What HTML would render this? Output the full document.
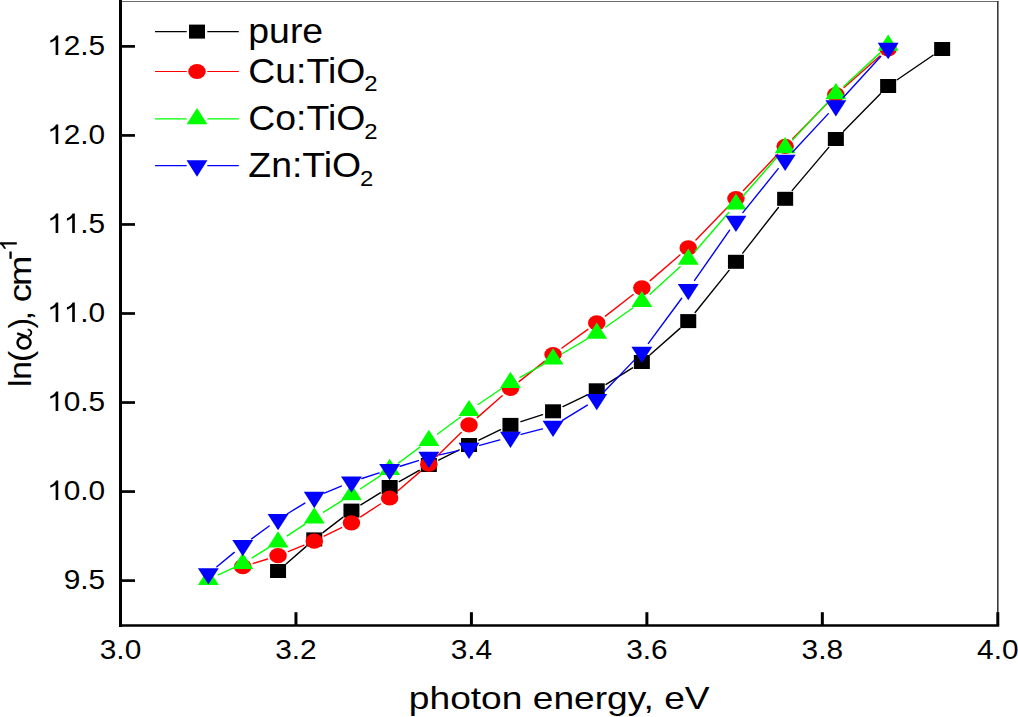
<!DOCTYPE html>
<html><head><meta charset="utf-8"><title>ln(alpha) vs photon energy</title>
<style>html,body{margin:0;padding:0;background:#fff;width:1018px;height:717px;overflow:hidden}svg{display:block}</style>
</head><body><svg width="1018" height="717" viewBox="0 0 1018 717"><rect width="100%" height="100%" fill="#fff"/><path d="M286.34 563.77L305.96 546.63M322.95 532.67L342.75 517.33M360.81 504.82L380.29 492.78M399.24 481.62L419.26 470.38M438.7 460.1L459.2 449.9M478.95 440.2L500.55 429.7M520.93 421.55L542.57 414.65M562.96 406.54L586.84 395.06M606.07 384.45L632.53 367.85M650.1 354.73L680 328.37M695.14 312.53L729.06 270.37M742.72 253.13L778.38 207.47M792.26 190.41L828.74 147.39M843.58 131.17L880.42 93.83M897.22 79.78L933.08 55.22" stroke="#000000" stroke-width="1.4" stroke-linecap="round" fill="none"/><g fill="#000000"><rect x="270.05" y="564" width="16" height="14"/><rect x="306.25" y="532.4" width="16" height="14"/><rect x="343.45" y="503.6" width="16" height="14"/><rect x="381.65" y="480" width="16" height="14"/><rect x="420.85" y="458" width="16" height="14"/><rect x="461.05" y="438" width="16" height="14"/><rect x="502.45" y="417.9" width="16" height="14"/><rect x="545.05" y="404.3" width="16" height="14"/><rect x="588.75" y="383.3" width="16" height="14"/><rect x="633.85" y="355" width="16" height="14"/><rect x="680.25" y="314.1" width="16" height="14"/><rect x="727.95" y="254.8" width="16" height="14"/><rect x="777.15" y="191.8" width="16" height="14"/><rect x="827.85" y="132" width="16" height="14"/><rect x="880.15" y="79" width="16" height="14"/><rect x="934.15" y="42" width="16" height="14"/></g><path d="M253.25 563.43L267.55 558.97M288.25 551.59L304.05 545.21M324.12 536.24L341.58 527.66M360.68 516.81L380.42 503.99M397.98 490.82L420.52 471.38M436.72 456.51L461.18 432.59M477.31 417.64L502.19 395.76M519.05 381.64L544.45 361.36M561.96 348.05L587.84 329.35M605.43 316.14L633.17 294.56M650.19 280.63L679.91 255.07M695.9 239.99L728.3 206.51M743.49 190.59L777.61 154.31M792.86 138.45L828.14 102.55M844.12 87.44L879.88 56.06" stroke="#ff0000" stroke-width="1.4" stroke-linecap="round" fill="none"/><g fill="#ff0000"><ellipse cx="242.75" cy="566.7" rx="8.75" ry="7.6"/><ellipse cx="278.05" cy="555.7" rx="8.75" ry="7.6"/><ellipse cx="314.25" cy="541.1" rx="8.75" ry="7.6"/><ellipse cx="351.45" cy="522.8" rx="8.75" ry="7.6"/><ellipse cx="389.65" cy="498" rx="8.75" ry="7.6"/><ellipse cx="428.85" cy="464.2" rx="8.75" ry="7.6"/><ellipse cx="469.05" cy="424.9" rx="8.75" ry="7.6"/><ellipse cx="510.45" cy="388.5" rx="8.75" ry="7.6"/><ellipse cx="553.05" cy="354.5" rx="8.75" ry="7.6"/><ellipse cx="596.75" cy="322.9" rx="8.75" ry="7.6"/><ellipse cx="641.85" cy="287.8" rx="8.75" ry="7.6"/><ellipse cx="688.25" cy="247.9" rx="8.75" ry="7.6"/><ellipse cx="735.95" cy="198.6" rx="8.75" ry="7.6"/><ellipse cx="785.15" cy="146.3" rx="8.75" ry="7.6"/><ellipse cx="835.85" cy="94.7" rx="8.75" ry="7.6"/><ellipse cx="888.15" cy="48.8" rx="8.75" ry="7.6"/></g><path d="M218.32 574.86L232.78 568.14M252.14 557.78L268.66 547.72M287.22 535.92L305.08 524.08M323.58 512.18L342.12 500.62M360.62 488.73L380.48 475.57M398.5 462.97L420 447.13M437.68 434.04L460.22 417.26M478.15 404.52L501.35 388.78M520.08 377.29L543.42 364.41M562.52 353.51L587.28 338.89M605.76 326.99L632.84 308.01M649.98 294.29L680.12 266.81M695.44 251.08L728.76 212.52M743.19 195.92L777.91 156.18M792.67 139.87L828.33 101.83M843.92 86.33L880.08 52.87" stroke="#00ff00" stroke-width="1.4" stroke-linecap="round" fill="none"/><g fill="#00ff00"><path d="M208.35 568.7L218.8 584.9L197.9 584.9Z"/><path d="M242.75 552.7L253.2 568.9L232.3 568.9Z"/><path d="M278.05 531.2L288.5 547.4L267.6 547.4Z"/><path d="M314.25 507.2L324.7 523.4L303.8 523.4Z"/><path d="M351.45 484L361.9 500.2L341 500.2Z"/><path d="M389.65 458.7L400.1 474.9L379.2 474.9Z"/><path d="M428.85 429.8L439.3 446L418.4 446Z"/><path d="M469.05 399.9L479.5 416.1L458.6 416.1Z"/><path d="M510.45 371.8L520.9 388L500 388Z"/><path d="M553.05 348.3L563.5 364.5L542.6 364.5Z"/><path d="M596.75 322.5L607.2 338.7L586.3 338.7Z"/><path d="M641.85 290.9L652.3 307.1L631.4 307.1Z"/><path d="M688.25 248.6L698.7 264.8L677.8 264.8Z"/><path d="M735.95 193.4L746.4 209.6L725.5 209.6Z"/><path d="M785.15 137.1L795.6 153.3L774.7 153.3Z"/><path d="M835.85 83L846.3 99.2L825.4 99.2Z"/><path d="M888.15 34.6L898.6 50.8L877.7 50.8Z"/></g><path d="M216.84 566.69L234.26 552.37M251.62 538.88L269.18 525.99M287.43 513.73L304.87 503.03M324.41 493.08L341.29 486.09M361.91 478.49L379.19 472.88M400.15 466.21L418.35 460.55M439.58 454.85L458.32 450.61M479.67 445.33L499.83 439.93M521.11 434.36L542.39 428.91M562.44 420.45L587.36 405.22M604.34 391.52L634.26 360.14M648.39 343.34L681.71 298.23M694.55 280.37L729.65 230.2M742.85 212.62L778.25 168.65M792.64 152.03L828.36 113.64M843.27 97.46L880.73 56.41" stroke="#0000ff" stroke-width="1.4" stroke-linecap="round" fill="none"/><g fill="#0000ff"><path d="M197.9 568.25L218.8 568.25L208.35 584.55Z"/><path d="M232.3 539.95L253.2 539.95L242.75 556.25Z"/><path d="M267.6 514.05L288.5 514.05L278.05 530.35Z"/><path d="M303.8 491.85L324.7 491.85L314.25 508.15Z"/><path d="M341 476.45L361.9 476.45L351.45 492.75Z"/><path d="M379.2 464.05L400.1 464.05L389.65 480.35Z"/><path d="M418.4 451.85L439.3 451.85L428.85 468.15Z"/><path d="M458.6 442.75L479.5 442.75L469.05 459.05Z"/><path d="M500 431.65L520.9 431.65L510.45 447.95Z"/><path d="M542.6 420.75L563.5 420.75L553.05 437.05Z"/><path d="M586.3 394.05L607.2 394.05L596.75 410.35Z"/><path d="M631.4 346.75L652.3 346.75L641.85 363.05Z"/><path d="M677.8 283.95L698.7 283.95L688.25 300.25Z"/><path d="M725.5 215.75L746.4 215.75L735.95 232.05Z"/><path d="M774.7 154.65L795.6 154.65L785.15 170.95Z"/><path d="M825.4 100.15L846.3 100.15L835.85 116.45Z"/><path d="M877.7 42.85L898.6 42.85L888.15 59.15Z"/></g><rect x="120" y="1" width="878.6" height="1" fill="#6a6a6a"/><rect x="997" y="1" width="1.6" height="625" fill="#3c3c3c"/><line x1="120.5" y1="0" x2="120.5" y2="626.9" stroke="#000" stroke-width="3"/><line x1="119" y1="625.5" x2="999.2" y2="625.5" stroke="#000" stroke-width="2.7"/><line x1="120.5" y1="580.6" x2="135" y2="580.6" stroke="#000" stroke-width="2.7"/><line x1="120.5" y1="491.57" x2="135" y2="491.57" stroke="#000" stroke-width="2.7"/><line x1="120.5" y1="402.53" x2="135" y2="402.53" stroke="#000" stroke-width="2.7"/><line x1="120.5" y1="313.5" x2="135" y2="313.5" stroke="#000" stroke-width="2.7"/><line x1="120.5" y1="224.46" x2="135" y2="224.46" stroke="#000" stroke-width="2.7"/><line x1="120.5" y1="135.43" x2="135" y2="135.43" stroke="#000" stroke-width="2.7"/><line x1="120.5" y1="46.39" x2="135" y2="46.39" stroke="#000" stroke-width="2.7"/><line x1="295.96" y1="612.2" x2="295.96" y2="625.5" stroke="#000" stroke-width="3"/><line x1="471.42" y1="612.2" x2="471.42" y2="625.5" stroke="#000" stroke-width="3"/><line x1="646.88" y1="612.2" x2="646.88" y2="625.5" stroke="#000" stroke-width="3"/><line x1="822.34" y1="612.2" x2="822.34" y2="625.5" stroke="#000" stroke-width="3"/><line x1="997.8" y1="612.2" x2="997.8" y2="625.5" stroke="#000" stroke-width="3"/><g font-family='"Liberation Sans", sans-serif' font-size="27.9" fill="#000"><text transform="translate(63.7 589) scale(1.07 1)">9.5</text><path transform="translate(47.11 500) scale(0.02985 -0.02790)" d="M373 0L285 0L285 548C253 519 201 489 149 459C127 447 117 444 108 441L108 525C150 544 196 569 230 603C266 637 287 670 299 698L373 698Z"/><text transform="translate(63.7 500) scale(1.07 1)">0.0</text><path transform="translate(47.11 411) scale(0.02985 -0.02790)" d="M373 0L285 0L285 548C253 519 201 489 149 459C127 447 117 444 108 441L108 525C150 544 196 569 230 603C266 637 287 670 299 698L373 698Z"/><text transform="translate(63.7 411) scale(1.07 1)">0.5</text><path transform="translate(47.11 322) scale(0.02985 -0.02790)" d="M373 0L285 0L285 548C253 519 201 489 149 459C127 447 117 444 108 441L108 525C150 544 196 569 230 603C266 637 287 670 299 698L373 698Z"/><path transform="translate(63.7 322) scale(0.02985 -0.02790)" d="M373 0L285 0L285 548C253 519 201 489 149 459C127 447 117 444 108 441L108 525C150 544 196 569 230 603C266 637 287 670 299 698L373 698Z"/><text transform="translate(80.3 322) scale(1.07 1)">.0</text><path transform="translate(47.11 233) scale(0.02985 -0.02790)" d="M373 0L285 0L285 548C253 519 201 489 149 459C127 447 117 444 108 441L108 525C150 544 196 569 230 603C266 637 287 670 299 698L373 698Z"/><path transform="translate(63.7 233) scale(0.02985 -0.02790)" d="M373 0L285 0L285 548C253 519 201 489 149 459C127 447 117 444 108 441L108 525C150 544 196 569 230 603C266 637 287 670 299 698L373 698Z"/><text transform="translate(80.3 233) scale(1.07 1)">.5</text><path transform="translate(47.11 144) scale(0.02985 -0.02790)" d="M373 0L285 0L285 548C253 519 201 489 149 459C127 447 117 444 108 441L108 525C150 544 196 569 230 603C266 637 287 670 299 698L373 698Z"/><text transform="translate(63.7 144) scale(1.07 1)">2.0</text><path transform="translate(47.11 55) scale(0.02985 -0.02790)" d="M373 0L285 0L285 548C253 519 201 489 149 459C127 447 117 444 108 441L108 525C150 544 196 569 230 603C266 637 287 670 299 698L373 698Z"/><text transform="translate(63.7 55) scale(1.07 1)">2.5</text><text transform="translate(99.75 659.3) scale(1.07 1)">3.0</text><text transform="translate(275.21 659.3) scale(1.07 1)">3.2</text><text transform="translate(450.67 659.3) scale(1.07 1)">3.4</text><text transform="translate(626.13 659.3) scale(1.07 1)">3.6</text><text transform="translate(801.59 659.3) scale(1.07 1)">3.8</text><text transform="translate(977.05 659.3) scale(1.07 1)">4.0</text><text transform="translate(559.2 709) scale(1.168 1)" text-anchor="middle" font-size="31.8">photon energy, eV</text><text transform="translate(31.4 387.1) rotate(-90) scale(1.047 1)" font-size="32">ln</text><text transform="translate(31.4 361.91) rotate(-90) scale(1.061 1)" font-size="32">(</text><text transform="translate(31.4 328.39) rotate(-90) scale(0.979 1)" font-size="32">)</text><text transform="translate(31.4 320.42) rotate(-90) scale(1.084 1)" font-size="32">,</text><text transform="translate(31.4 302.14) rotate(-90) scale(1.143 1)" font-size="32">c</text><text transform="translate(31.4 286.01) rotate(-90) scale(1.141 1)" font-size="32">m</text><g fill="none" stroke="#000"><ellipse cx="24.05" cy="342.7" rx="6.5" ry="5.7" stroke-width="2.5"/><path d="M17.2 333.4L27.2 336.9" stroke-width="2.5"/><path d="M28.2 336.3C31.0 335.4 31.8 333.1 31.0 331.3C30.4 330.1 29.2 329.5 27.6 329.4" stroke-width="1.9"/></g><rect x="9.4" y="251.5" width="2.3" height="7.3"/><path transform="matrix(0 -0.0245 -0.0245 0 16.8 251.5)" d="M373 0L285 0L285 548C253 519 201 489 149 459C127 447 117 444 108 441L108 525C150 544 196 569 230 603C266 637 287 670 299 698L373 698Z"/><path d="M155 31.6H186.7M207.3 31.6H238.8" stroke="#000000" stroke-width="1.15"/><g fill="#000000"><rect x="189" y="24.6" width="16" height="14"/></g><text transform="translate(248.3 43) scale(1.075 1)" font-size="34.8">pure</text><path d="M155 71.5H186.7M207.3 71.5H238.8" stroke="#ff0000" stroke-width="1.15"/><g fill="#ff0000"><ellipse cx="197" cy="71.5" rx="8.75" ry="7.6"/></g><text transform="translate(248.3 82.9) scale(1.075 1)" font-size="34.8">Cu:TiO<tspan font-size="22.3" dy="8.4" dx="-1.1">2</tspan></text><path d="M155 118.8H186.7M207.3 118.8H238.8" stroke="#00ff00" stroke-width="1.15"/><g fill="#00ff00"><path d="M197 108.1L207.45 124.3L186.55 124.3Z"/></g><text transform="translate(248.3 130.3) scale(1.075 1)" font-size="34.8">Co:TiO<tspan font-size="22.3" dy="8.4" dx="-1.1">2</tspan></text><path d="M155 165.6H186.7M207.3 165.6H238.8" stroke="#0000ff" stroke-width="1.15"/><g fill="#0000ff"><path d="M186.55 160.37L207.45 160.37L197 176.67Z"/></g><text transform="translate(248.3 177.2) scale(1.075 1)" font-size="34.8">Zn:TiO<tspan font-size="22.3" dy="8.4" dx="-1.1">2</tspan></text></g></svg></body></html>
